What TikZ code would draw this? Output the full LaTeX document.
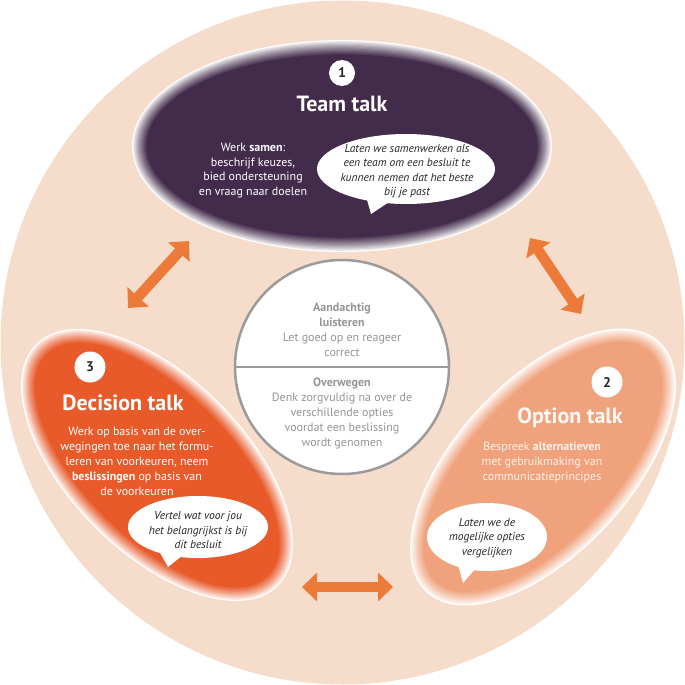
\documentclass[tikz,border=0pt]{standalone}
\usepackage{fontspec}
\setmainfont{PT Sans}
\usetikzlibrary{arrows.meta}
\definecolor{bgpeach}{HTML}{F6DCCB}
\definecolor{purp}{HTML}{432C4B}
\definecolor{decor}{HTML}{E85A2A}
\definecolor{optc}{HTML}{F0A27C}
\definecolor{arrc}{HTML}{EC7B3A}
\definecolor{ringgray}{HTML}{9B9B9B}
\definecolor{txtgray}{HTML}{959595}
\begin{document}
\begin{tikzpicture}[x=1pt,y=-1pt,
 body/.style={font=\fontsize{12}{15}\selectfont, align=center, inner sep=0pt},
 bubtxt/.style={font=\fontsize{11.5}{14.5}\selectfont\itshape, align=center, inner sep=0pt, text=black!85},
 title/.style={font=\fontsize{22}{26}\selectfont\bfseries, text=white, inner sep=0pt},
 numcirc/.style={circle, fill=white, inner sep=0pt, font=\fontsize{14}{14}\selectfont\bfseries, text=black!85},
 dbl/.style={arrc, line width=10.5pt, {Triangle[length=15pt,width=28pt]}-{Triangle[length=15pt,width=28pt]}},
 ]
\useasboundingbox (0,0) rectangle (685,685);
\fill[bgpeach] (342.5,342.5) circle[radius=342];

% top ellipse
\foreach \i in {0,...,12}{
  \pgfmathtruncatemacro\m{100*(\i/12)^0.85}
  \fill[purp!\m!white] (342,146) ellipse[x radius={210-1.2*\i}, y radius={106-1.2*\i}];
}
% left ellipse
\begin{scope}[shift={(157,465)}, rotate=-45]
\foreach \i in {0,...,12}{
  \pgfmathtruncatemacro\m{100*(\i/12)^0.85}
  \fill[decor!\m!white] (0,0) ellipse[x radius={171-1.2*\i}, y radius={88-1.2*\i}];
}
\end{scope}
% right ellipse
\begin{scope}[shift={(543,467)}, rotate=47]
\foreach \i in {0,...,12}{
  \pgfmathtruncatemacro\m{100*(\i/12)^0.85}
  \fill[optc!\m!white] (0,0) ellipse[x radius={171-1.2*\i}, y radius={87-1.2*\i}];
}
\end{scope}

% centre circle
\node[circle, draw=ringgray, line width=2.5pt, fill=white, minimum size=214pt, inner sep=0pt] (mid) at (342,367) {};
\draw[ringgray, line width=2.5pt] (mid.west) -- (mid.east);
\node[body, text=txtgray] (listen) at (342,329.5) {\textbf{Aandachtig}\\\textbf{luisteren}\\Let goed op en reageer\\correct};
\node[body, text=txtgray] (weigh) at (342,413.5) {\textbf{Overwegen}\\Denk zorgvuldig na over de\\verschillende opties\\voordat een beslissing\\wordt genomen};

% Team talk
\node[numcirc, minimum size=26pt] (n1) at (342,73) {1};
\node[title] (t1) at (342,104) {Team talk};
\node[body, text=white, font=\fontsize{12}{14.5}\selectfont] (b1) at (253,170.5) {Werk \textbf{samen}:\\beschrijf keuzes,\\bied ondersteuning\\en vraag naar doelen};
\fill[white] (406,169) ellipse[x radius=89, y radius=35];
\fill[white] (366,196) -- (371,214) -- (392,200) -- cycle;
\node[bubtxt] (s1) at (407,171) {Laten we samenwerken als\\een team om een besluit te\\kunnen nemen dat het beste\\bij je past};

% Decision talk
\node[numcirc, minimum size=31pt] (n3) at (90,367) {3};
\node[title] (t3) at (123,403) {Decision talk};
\node[body, text=white] (b3) at (137,461.5) {Werk op basis van de over-\\wegingen toe naar het formu-\\leren van voorkeuren, neem\\\textbf{beslissingen} op basis van\\de voorkeuren};
\fill[white] (198,527) ellipse[x radius=70, y radius=31];
\fill[white] (158,549) -- (168,567) -- (183,555) -- cycle;
\node[bubtxt] (s3) at (198,530) {Vertel wat voor jou\\het belangrijkst is bij\\dit besluit};

% Option talk
\node[numcirc, minimum size=31pt] (n2) at (607,382) {2};
\node[title, text=white!92!optc] (t2) at (570,418) {Option talk};
\node[body, text=white!85!optc] (b2) at (542,462) {Bespreek \textbf{alternatieven}\\met gebruikmaking van\\communicatieprincipes};
\fill[white] (487,537) ellipse[x radius=60, y radius=34];
\fill[white] (457,561) -- (463,583) -- (477,567) -- cycle;
\node[bubtxt] (s2) at (487,538) {Laten we de\\mogelijke opties\\vergelijken};

% arrows
\coordinate (aL1) at (128,308);
\coordinate (aL2) at (189,241);
\coordinate (aR1) at (530,238);
\coordinate (aR2) at (581,314);
\coordinate (aB1) at (302,587);
\coordinate (aB2) at (393,587);
\draw[dbl] (aL1) -- (aL2);
\draw[dbl] (aR1) -- (aR2);
\draw[dbl] (aB1) -- (aB2);
\end{tikzpicture}
\end{document}
